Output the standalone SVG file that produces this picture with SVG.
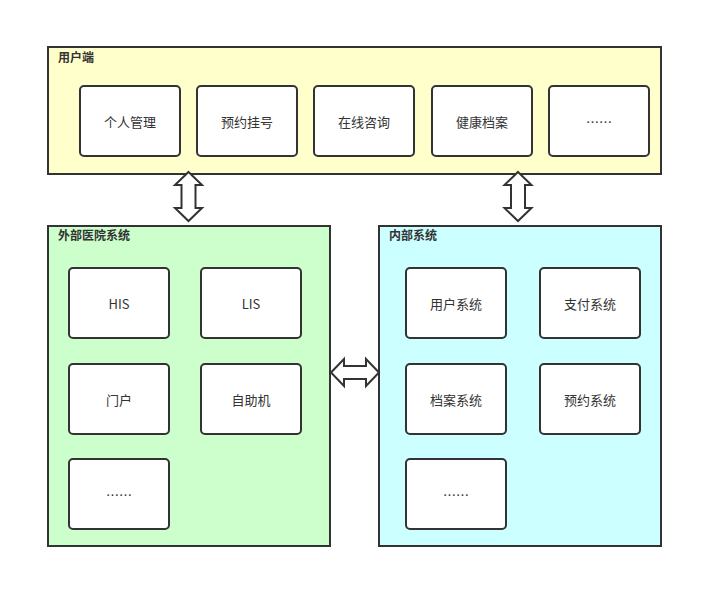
<svg xmlns="http://www.w3.org/2000/svg" width="723" height="607" viewBox="0 0 723 607">
<style>
.c{stroke:#333;stroke-width:2}
.n{fill:#fff;stroke:#333;stroke-width:2}
.t{font-family:"Noto Sans CJK SC","Liberation Sans",sans-serif;font-size:13px;fill:#333;text-anchor:middle;dominant-baseline:central}
.h{font-family:"Noto Sans CJK SC","Liberation Sans",sans-serif;font-size:12px;font-weight:bold;fill:#333}
.a{fill:#fff;stroke:#333;stroke-width:2;stroke-linejoin:miter}
</style>
<rect width="723" height="607" fill="#fff"/>
<g id="user"><rect x="48" y="47" width="613" height="127" fill="#ffffcc" class="c"/><text class="h" x="58" y="62">用户端</text></g>
<g id="ext"><rect x="48" y="226" width="282" height="320" fill="#ccffcc" class="c"/><text class="h" x="58" y="240">外部医院系统</text></g>
<g id="int"><rect x="379" y="226" width="282" height="320" fill="#ccffff" class="c"/><text class="h" x="389" y="240">内部系统</text></g>
<g id="u1"><rect class="n" x="80" y="86" width="100" height="70" rx="4"/><text class="t" x="130" y="121">个人管理</text></g>
<g id="u2"><rect class="n" x="197" y="86" width="100" height="70" rx="4"/><text class="t" x="247" y="121">预约挂号</text></g>
<g id="u3"><rect class="n" x="314" y="86" width="100" height="70" rx="4"/><text class="t" x="364" y="121">在线咨询</text></g>
<g id="u4"><rect class="n" x="432" y="86" width="100" height="70" rx="4"/><text class="t" x="482" y="121">健康档案</text></g>
<g id="u5"><rect class="n" x="549" y="86" width="100" height="70" rx="4"/><text class="t" x="599" y="121">……</text></g>
<g id="e1"><rect class="n" x="69" y="268" width="100" height="70" rx="4"/><text class="t" x="119" y="303">HIS</text></g>
<g id="e2"><rect class="n" x="201" y="268" width="100" height="70" rx="4"/><text class="t" x="251" y="303">LIS</text></g>
<g id="e3"><rect class="n" x="69" y="364" width="100" height="70" rx="4"/><text class="t" x="119" y="399">门户</text></g>
<g id="e4"><rect class="n" x="201" y="364" width="100" height="70" rx="4"/><text class="t" x="251" y="399">自助机</text></g>
<g id="e5"><rect class="n" x="69" y="459" width="100" height="70" rx="4"/><text class="t" x="119" y="494">……</text></g>
<g id="i1"><rect class="n" x="406" y="268" width="100" height="70" rx="4"/><text class="t" x="456" y="303">用户系统</text></g>
<g id="i2"><rect class="n" x="540" y="268" width="100" height="70" rx="4"/><text class="t" x="590" y="303">支付系统</text></g>
<g id="i3"><rect class="n" x="406" y="364" width="100" height="70" rx="4"/><text class="t" x="456" y="399">档案系统</text></g>
<g id="i4"><rect class="n" x="540" y="364" width="100" height="70" rx="4"/><text class="t" x="590" y="399">预约系统</text></g>
<g id="i5"><rect class="n" x="406" y="459" width="100" height="70" rx="4"/><text class="t" x="456" y="494">……</text></g>
<g id="connectors">
<polygon class="a" points="188.5,172 202,185 195.5,185 195.5,208 202,208 188.5,221 175,208 181.5,208 181.5,185 175,185"/>
<polygon class="a" points="518,172 531.5,185 525,185 525,208 531.5,208 518,221 504.5,208 511,208 511,185 504.5,185"/>
<polygon class="a" points="331,372.5 344,359 344,366 366,366 366,359 379,372.5 366,386 366,379 344,379 344,386"/>
</g>
</svg>
